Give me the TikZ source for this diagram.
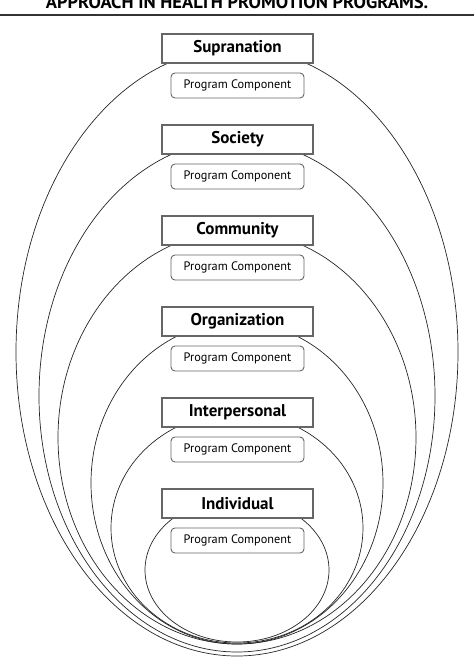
\documentclass[tikz,border=0pt]{standalone}
\usepackage{fontspec}
\setmainfont{PT Sans}
\begin{document}
\begin{tikzpicture}[x=1pt,y=1pt,
  ring/.style={draw=black!85, line width=0.7pt},
  levelbox/.style={draw=black!60, line width=1.1pt, fill=white, minimum width=151pt, minimum height=29pt, inner sep=0pt, font=\bfseries\fontsize{17}{19}\selectfont},
  compbox/.style={draw=black!60, line width=0.9pt, fill=white, rounded corners=4pt, minimum width=133pt, minimum height=25pt, inner sep=0pt, font=\fontsize{12.3}{14}\selectfont},
  titletext/.style={font=\bfseries\fontsize{18.5}{20}\selectfont, anchor=base, inner sep=0pt}]
\useasboundingbox (0,0) rectangle (474,-657);
% title (cut off at top edge, as in the reference)
\node[titletext] (title) at (237,-8.5) {APPROACH IN HEALTH PROMOTION PROGRAMS.};
\coordinate (ruleL) at (0,-15);
\coordinate (ruleR) at (474,-15);
\draw[line width=1.4pt, black!80] (ruleL) -- (ruleR);
% nested ellipses
\draw[ring] (237,-352) ellipse [x radius=221, y radius=304];
\draw[ring] (237,-396) ellipse [x radius=198, y radius=256];
\draw[ring] (237,-437.5) ellipse [x radius=179, y radius=206.5];
\draw[ring] (237,-483) ellipse [x radius=146, y radius=161];
\draw[ring] (237,-528) ellipse [x radius=126, y radius=115];
\draw[ring] (237,-570) ellipse [x radius=92, y radius=72];
% level boxes and component boxes
\node[levelbox] (supra) at (237.5,-48.5) {Supranation};
\node[compbox] (supraC) at (237.5,-85.5) {Program Component};
\node[levelbox] (soc) at (237.5,-139.5) {Society};
\node[compbox] (socC) at (237.5,-176.5) {Program Component};
\node[levelbox] (comm) at (237.5,-230.5) {Community};
\node[compbox] (commC) at (237.5,-267.5) {Program Component};
\node[levelbox] (org) at (237.5,-321.5) {Organization};
\node[compbox] (orgC) at (237.5,-358.5) {Program Component};
\node[levelbox] (inter) at (237.5,-412.5) {Interpersonal};
\node[compbox] (interC) at (237.5,-449.5) {Program Component};
\node[levelbox] (indiv) at (237.5,-503.5) {Individual};
\node[compbox] (indivC) at (237.5,-540.5) {Program Component};
\end{tikzpicture}
\end{document}
